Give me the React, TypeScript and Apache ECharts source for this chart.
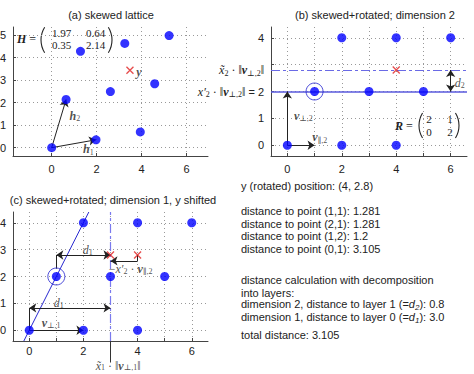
import React, { useEffect, useRef } from 'react';
import * as echarts from 'echarts';

// ---------- data ----------
const H = [
  [1.97, 0.64],
  [0.35, 2.14],
];
const h1 = [1.97, 0.35];
const h2 = [0.64, 2.14];
const latticeAX = [0, 1.97, 0.64, 2.61, 3.94, 1.28, 4.58, 3.25, 5.22];
const latticeAY = [0, 0.35, 2.14, 2.49, 0.7, 4.28, 2.84, 4.63, 4.98];
const targetA = [3.48, 3.44];

const R = [
  [2, 1],
  [0, 2],
];
const latticeRX = [0, 2, 4, 1, 3, 5, 2, 4, 6];
const latticeRY = [0, 0, 0, 2, 2, 2, 4, 4, 4];
const yRot = [4, 2.8];
const yShifted = [3, 2.8];
const nearestLayerPoint = [1, 2];
const layer2Level = 2; // x'_2 * ||v_perp,2||
const vPerp2 = [0, 2];
const vPar2 = [1, 0];
const vPerp1 = [2, 0];
const d2 = 0.8;
const d1 = 3.0;

const xTicksA = [0, 2, 4, 6];
const yTicksA = [0, 1, 2, 3, 4, 5];
const xTicksRot = [0, 1, 2, 3, 4, 5, 6];
const xLabelsRot = [0, 2, 4, 6];
const yTicksRot = [0, 1, 2, 3, 4];
const yLabelsB = [0, 1, 2, 2.8, 4];
const yLabelsC = [0, 1, 2, 3, 4];

const distPoints = ['(1,1)', '(2,1)', '(1,2)', '(0,1)'];
const distValues = [1.281, 1.281, 1.2, 3.105];
const totalDistance = 3.105;

// ---------- styles ----------
const SANS = '"Liberation Sans", Arial, Helvetica, sans-serif';
const SERIF = '"Liberation Serif", "DejaVu Serif", serif';
const TXT = '#222';
const AX = '#444';
const BLUE = '#0000ff';
const RED = '#e02020';

const RICH: any = {
  m: { fontFamily: SERIF, fontStyle: 'italic', fontSize: 12, color: TXT, lineHeight: 14 },
  b: { fontFamily: SERIF, fontStyle: 'italic', fontWeight: 'bold', fontSize: 12, color: TXT, lineHeight: 14 },
  n: { fontFamily: SERIF, fontSize: 12, color: TXT, lineHeight: 14 },
  s: { fontFamily: SERIF, fontSize: 8, color: TXT, verticalAlign: 'bottom', lineHeight: 9 },
  t: { fontFamily: SANS, fontSize: 11, color: TXT, lineHeight: 14 },
  i: { fontFamily: SANS, fontStyle: 'italic', fontSize: 11, color: TXT, lineHeight: 14 },
  si: { fontFamily: SANS, fontStyle: 'italic', fontSize: 8, color: TXT, verticalAlign: 'bottom', lineHeight: 9 },
  mc: { fontFamily: SERIF, fontStyle: 'italic', fontSize: 12, color: TXT, lineHeight: 12 },
  bc: { fontFamily: SERIF, fontStyle: 'italic', fontWeight: 'bold', fontSize: 12, color: TXT, lineHeight: 12 },
  nc: { fontFamily: SERIF, fontSize: 12, color: TXT, lineHeight: 12 },
  sc: { fontFamily: SERIF, fontSize: 8, color: TXT, verticalAlign: 'bottom', lineHeight: 8 },
};

const X_LABEL_ROT_B2 = '{m|x̃}{s|2}{n| · ‖}{b|v}{s|⊥,2}{n|‖}';
const X_LABEL_LAYER = '{m|x′}{s|2}{n| · ‖}{b|v}{s|⊥,2}{n|‖}{t| = 2}';

function xAxis(gi: number, min: number, max: number, ticks: number[], labels: number[], margin = 7) {
  return {
    type: 'value',
    gridIndex: gi,
    min,
    max,
    axisLine: { show: true, onZero: false, lineStyle: { color: AX, width: 1 } },
    axisTick: { show: true, inside: true, length: 3, customValues: ticks, lineStyle: { color: AX } },
    axisLabel: { customValues: labels, margin, fontSize: 11, color: TXT, fontFamily: SANS },
    splitLine: { show: true, lineStyle: { type: [1, 3], color: '#999', width: 1 } },
  };
}
function yAxis(gi: number, min: number, max: number, ticks: number[], labels: number[], formatter?: any) {
  return {
    type: 'value',
    gridIndex: gi,
    min,
    max,
    axisLine: { show: true, onZero: false, lineStyle: { color: AX, width: 1 } },
    axisTick: { show: true, inside: true, length: 3, customValues: ticks, lineStyle: { color: AX } },
    axisLabel: {
      customValues: labels,
      margin: 7,
      fontSize: 11,
      color: TXT,
      fontFamily: SANS,
      formatter: formatter || ((v: number) => String(v)),
      rich: RICH,
    },
    splitLine: { show: true, lineStyle: { type: [1, 3], color: '#999', width: 1 } },
  };
}

function dots(gi: number, xs: number[], ys: number[]) {
  return {
    type: 'scatter',
    xAxisIndex: gi,
    yAxisIndex: gi,
    data: xs.map((x, i) => [x, ys[i]]),
    symbol: 'circle',
    symbolSize: 9,
    itemStyle: { color: BLUE },
    z: 4,
    silent: true,
  };
}
function seg(gi: number, coords: number[][], color: string, width: number, type: any, symbol: any, clip = true) {
  return {
    type: 'lines',
    coordinateSystem: 'cartesian2d',
    xAxisIndex: gi,
    yAxisIndex: gi,
    data: [{ coords }],
    symbol,
    symbolSize: 7,
    lineStyle: { color, width, type, opacity: 1, curveness: 0 },
    itemStyle: { color },
    clip,
    z: 3,
    silent: true,
  };
}
function cross(gi: number, pts: number[][]) {
  return {
    type: 'scatter',
    xAxisIndex: gi,
    yAxisIndex: gi,
    data: pts,
    symbol: 'path://M0,0L10,10M10,0L0,10',
    symbolSize: 7,
    itemStyle: { color: 'rgba(0,0,0,0)', borderColor: RED, borderWidth: 1.3 },
    z: 5,
    silent: true,
  };
}
function ring(gi: number, pt: number[]) {
  return {
    type: 'scatter',
    xAxisIndex: gi,
    yAxisIndex: gi,
    data: [pt],
    symbol: 'circle',
    symbolSize: 17,
    itemStyle: { color: 'rgba(0,0,0,0)', borderColor: '#2020d0', borderWidth: 1 },
    z: 5,
    silent: true,
  };
}
function note(gi: number, pt: number[], text: string) {
  return {
    type: 'scatter',
    xAxisIndex: gi,
    yAxisIndex: gi,
    data: [pt],
    symbol: 'circle',
    symbolSize: 1,
    clip: false,
    itemStyle: { color: 'rgba(0,0,0,0)' },
    label: { show: true, position: 'inside', formatter: text, rich: RICH, color: TXT },
    labelLayout: { hideOverlap: false },
    z: 6,
    silent: true,
  };
}

function txt(x: number, y: number, text: string, opts: any = {}) {
  return {
    type: 'text',
    x,
    y,
    silent: true,
    style: {
      text,
      fill: TXT,
      fontSize: opts.fontSize || 11,
      fontFamily: opts.fontFamily || SANS,
      fontStyle: opts.fontStyle || 'normal',
      fontWeight: opts.fontWeight || 'normal',
      lineHeight: opts.lineHeight,
      align: opts.align || 'left',
      verticalAlign: 'middle',
      textAlign: opts.align || 'left',
      textVerticalAlign: 'middle',
      rich: RICH,
    },
  };
}
function paren(cx: number, cy: number, r: number, half: number, left: boolean) {
  return {
    type: 'arc',
    silent: true,
    shape: {
      cx,
      cy,
      r,
      startAngle: left ? Math.PI - half : -half,
      endAngle: left ? Math.PI + half : half,
      clockwise: true,
    },
    style: { stroke: TXT, lineWidth: 1.1, fill: 'none' },
  };
}

function buildOption() {
  const DASH_DOT = [9, 3, 3, 3];
  const NUM = { fontFamily: SERIF, fontSize: 11, lineHeight: 11 };
  const NUMC = { ...NUM, align: 'center' };
  const series: any[] = [
    // ---- (a) ----
    seg(0, [[0, 0], h1], '#222', 1, 'solid', ['none', 'arrow']),
    seg(0, [[0, 0], h2], '#222', 1, 'solid', ['none', 'arrow']),
    dots(0, latticeAX, latticeAY),
    cross(0, [targetA]),
    note(0, [3.88, 3.34], '{b|y}'),
    note(0, [1.03, 1.42], '{b|h}{s|2}'),
    note(0, [1.63, -0.08], '{b|h}{s|1}'),
    // ---- (b) ----
    seg(1, [[-0.6, layer2Level], [6.6, layer2Level]], '#5a5ade', 1.6, 'solid', 'none'),
    seg(1, [[-0.6, yRot[1]], [6.6, yRot[1]]], '#6a6ae6', 1.2, DASH_DOT, 'none'),
    seg(1, [[0, 0], vPerp2], '#222', 1, 'solid', ['none', 'arrow']),
    seg(1, [[0, 0], vPar2], '#222', 1, 'solid', ['none', 'arrow']),
    seg(1, [[6, layer2Level], [6, layer2Level + d2]], '#222', 1, 'solid', ['arrow', 'arrow']),
    dots(1, latticeRX, latticeRY),
    ring(1, nearestLayerPoint),
    cross(1, [yRot]),
    note(1, [0.59, 1.1], '{b|v}{s|⊥,2}'),
    note(1, [1.19, 0.3], '{b|v}{s|∥,2}'),
    note(1, [6.33, 2.33], '{m|d}{s|2}'),
    // ---- (c) ----
    seg(2, [[-0.2, -0.4], [2.2, 4.4]], '#2828d0', 1, 'solid', 'none'),
    seg(2, [[yShifted[0], -0.4], [yShifted[0], 4.4]], '#7a7aee', 1.2, DASH_DOT, 'none'),
    seg(2, [[yShifted[0], -0.4], [yShifted[0], -1.2]], '#333', 1, 'solid', 'none', false),
    seg(2, [[nearestLayerPoint[0], 2.3], [nearestLayerPoint[0], yShifted[1]]], '#222', 1, 'solid', 'none'),
    seg(2, [[nearestLayerPoint[0], yShifted[1]], [nearestLayerPoint[0] + d1 - 1, yShifted[1]]], '#222', 1, 'solid', ['arrow', 'arrow']),
    seg(2, [[yRot[0], yRot[1]], [yRot[0], 2.58]], '#222', 1, 'solid', 'none'),
    seg(2, [[yRot[0], 2.58], [yShifted[0], 2.58]], '#222', 1, 'solid', ['none', 'arrow']),
    seg(2, [[0, 0], [0, 0.83]], '#222', 1, 'solid', 'none'),
    seg(2, [[0, 0.83], [d1, 0.83]], '#222', 1, 'solid', ['arrow', 'arrow']),
    seg(2, [[0, 0], vPerp1], '#222', 1, 'solid', ['none', 'arrow']),
    dots(2, latticeRX, latticeRY),
    ring(2, nearestLayerPoint),
    cross(2, [yShifted, yRot]),
    note(2, [2.16, 3.0], '{m|d}{s|1}'),
    note(2, [3.74, 2.29], '{n|−}{m|x′}{s|2}{n| · }{b|v}{s|∥,2}'),
    note(2, [1.09, 1.03], '{m|d}{s|1}'),
    note(2, [0.81, 0.28], '{b|v}{s|⊥,1}'),
    note(2, [3.28, -1.33], '{mc|x̃}{sc|1}{nc| · ‖}{bc|v}{sc|⊥,1}{nc|‖}'),
  ];

  const graphic: any[] = [
    txt(111, 15, '(a) skewed lattice', { align: 'center' }),
    txt(375, 15, '(b) skewed+rotated; dimension 2', { align: 'center' }),
    txt(113, 200, '(c) skewed+rotated; dimension 1, y shifted', { align: 'center' }),
    // H matrix
    txt(17, 39, '{b|H}{n| =}'),
    paren(65, 40, 24, 0.56, true),
    paren(88, 40, 24, 0.56, false),
    txt(52, 33, String(H[0][0]), NUM),
    txt(86, 33, String(H[0][1]), NUM),
    txt(52, 45, String(H[1][0]), NUM),
    txt(86, 45, String(H[1][1]), NUM),
    // R matrix
    txt(395, 126, '{b|R}{n| =}'),
    paren(443, 125.5, 24, 0.55, true),
    paren(435, 125.5, 24, 0.55, false),
    txt(429, 119, String(R[0][0]), NUMC),
    txt(450, 119, String(R[0][1]), NUMC),
    txt(429, 132, String(R[1][0]), NUMC),
    txt(450, 132, String(R[1][1]), NUMC),
    // info block
    txt(241, 186, `y (rotated) position: (${yRot[0]}, ${yRot[1]})`),
    ...distPoints.map((p, i) => txt(241, 211.3 + i * 12.5, `distance to point ${p}: ${distValues[i]}`)),
    txt(241, 280.3, 'distance calculation with decomposition'),
    txt(241, 293, 'into layers:'),
    txt(241, 304, `{t|dimension 2, distance to layer 1 (=}{i|d}{si|2}{t|): ${d2.toFixed(1)}}`),
    txt(241, 317, `{t|dimension 1, distance to layer 0 (=}{i|d}{si|1}{t|): ${d1.toFixed(1)}}`),
    txt(241, 334.7, `total distance: ${totalDistance}`),
  ];

  return {
    animation: false,
    backgroundColor: '#ffffff',
    grid: [
      { left: 13, top: 27, width: 195, height: 129, outerBoundsMode: 'none' },
      { left: 271, top: 27, width: 196, height: 129, outerBoundsMode: 'none' },
      { left: 13, top: 212, width: 195, height: 129, outerBoundsMode: 'none' },
    ],
    xAxis: [
      xAxis(0, -1.72, 6.95, xTicksA, xTicksA, 7),
      xAxis(1, -0.6, 6.6, xTicksRot, xLabelsRot, 7),
      xAxis(2, -0.6, 6.6, xTicksRot, xLabelsRot, 4),
    ],
    yAxis: [
      yAxis(0, -0.37, 5.36, yTicksA, yTicksA),
      yAxis(1, -0.4, 4.4, yTicksRot, yLabelsB, (v: number) => {
        if (Math.abs(v - yRot[1]) < 1e-6) return X_LABEL_ROT_B2;
        if (Math.abs(v - layer2Level) < 1e-6) return X_LABEL_LAYER;
        return String(v);
      }),
      yAxis(2, -0.4, 4.4, yTicksRot, yLabelsC),
    ],
    series,
    graphic,
  };
}

export default function App() {
  const ref = useRef<HTMLDivElement>(null);
  useEffect(() => {
    const chart = echarts.init(ref.current!, null, { renderer: 'svg' });
    chart.setOption(buildOption() as any);
    return () => chart.dispose();
  }, []);
  return (
    <div
      ref={ref}
      style={{ position: 'fixed', left: 0, top: 0, width: 474, height: 374, background: '#fff' }}
    />
  );
}
